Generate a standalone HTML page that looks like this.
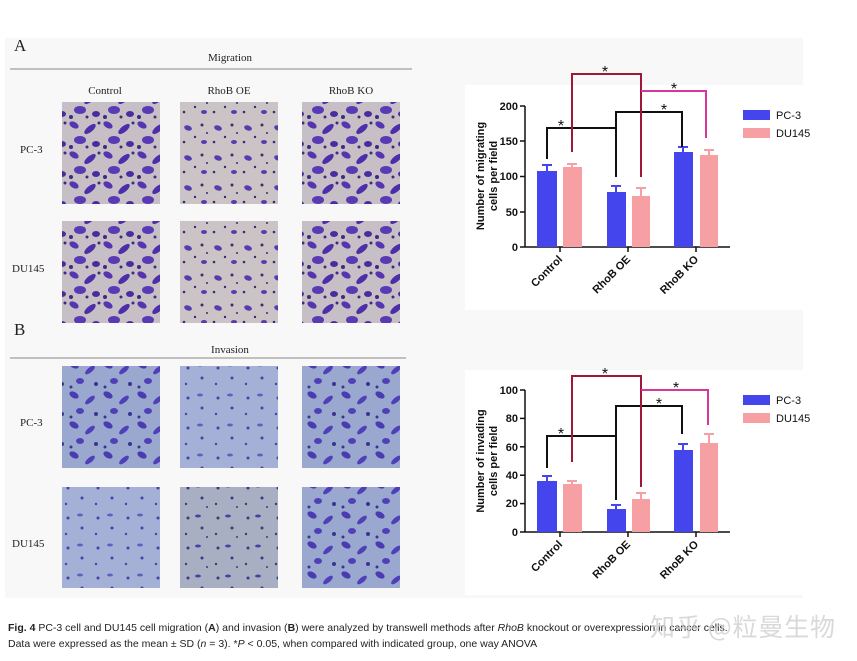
<!DOCTYPE html>
<html><head><meta charset="utf-8"><style>
html,body{margin:0;padding:0;background:#fff;width:857px;height:661px;overflow:hidden}
</style></head><body>
<svg width="857" height="661" viewBox="0 0 857 661" xmlns="http://www.w3.org/2000/svg">
<defs>
<pattern id="mD" width="34" height="30" patternUnits="userSpaceOnUse">
<rect width="34" height="30" fill="#c6bfc6"/>
<ellipse cx="6" cy="5" rx="5" ry="3" fill="#5634b0" transform="rotate(30 6 5)"/>
<ellipse cx="22" cy="9" rx="7" ry="3" fill="#4c2ea8" transform="rotate(-40 22 9)"/>
<ellipse cx="12" cy="20" rx="6" ry="4" fill="#5a3ab4"/>
<ellipse cx="28" cy="24" rx="4" ry="3" fill="#4a2c9e"/>
<circle cx="3" cy="27" r="2" fill="#3e2a80"/>
<circle cx="19" cy="27" r="1.5" fill="#3e2a80"/>
<circle cx="31" cy="3" r="1.5" fill="#3e2a80"/>
</pattern>
<pattern id="mL" width="30" height="30" patternUnits="userSpaceOnUse">
<rect width="30" height="30" fill="#cbc4c6"/>
<ellipse cx="8" cy="8" rx="4" ry="2.5" fill="#5a3ab0" transform="rotate(20 8 8)"/>
<circle cx="22" cy="5" r="1.5" fill="#3e2a70"/>
<circle cx="15" cy="17" r="1.2" fill="#3e2a70"/>
<circle cx="4" cy="22" r="1.3" fill="#3e2a70"/>
<ellipse cx="24" cy="22" rx="3" ry="2" fill="#5a3ab0"/>
<circle cx="27" cy="13" r="1" fill="#3e2a70"/>
</pattern>
<pattern id="iD" width="34" height="30" patternUnits="userSpaceOnUse">
<rect width="34" height="30" fill="#9aa8d0"/>
<ellipse cx="6" cy="5" rx="5" ry="3" fill="#4a3cb0" transform="rotate(30 6 5)"/>
<ellipse cx="22" cy="10" rx="6" ry="2.5" fill="#5040b8" transform="rotate(-40 22 10)"/>
<ellipse cx="12" cy="21" rx="4" ry="3" fill="#5040b8"/>
<circle cx="28" cy="24" r="2" fill="#3a3490"/>
<circle cx="3" cy="27" r="1.5" fill="#3a3490"/>
</pattern>
<pattern id="iL" width="30" height="30" patternUnits="userSpaceOnUse">
<rect width="30" height="30" fill="#a4b0d6"/>
<circle cx="8" cy="8" r="1.5" fill="#4a40a8"/>
<circle cx="22" cy="18" r="1.5" fill="#4a40a8"/>
<ellipse cx="20" cy="5" rx="3" ry="1.5" fill="#6060c0"/>
<circle cx="6" cy="24" r="1.2" fill="#4a40a8"/>
</pattern>
<pattern id="iG" width="30" height="30" patternUnits="userSpaceOnUse">
<rect width="30" height="30" fill="#a9afc2"/>
<circle cx="8" cy="8" r="1.5" fill="#3a3a80"/>
<circle cx="22" cy="18" r="1.5" fill="#3a3a80"/>
<ellipse cx="18" cy="6" rx="3" ry="1.5" fill="#4a40a8"/>
<circle cx="6" cy="24" r="1.2" fill="#3a3a80"/>
<circle cx="27" cy="27" r="1" fill="#3a3a80"/>
</pattern>
</defs>
<rect x="5" y="38" width="798" height="560" fill="#f8f8f8"/>
<g font-family="Liberation Serif, serif" fill="#222">
<text x="14" y="51" font-size="17">A</text>
<text x="230" y="61" font-size="11" text-anchor="middle">Migration</text>
<line x1="10" y1="69" x2="412" y2="69" stroke="#888" stroke-width="1"/>
<text x="105" y="94" font-size="11" text-anchor="middle">Control</text>
<text x="229" y="94" font-size="11" text-anchor="middle">RhoB OE</text>
<text x="351" y="94" font-size="11" text-anchor="middle">RhoB KO</text>
<text x="20" y="153" font-size="11">PC-3</text>
<text x="12" y="272" font-size="11">DU145</text>
<text x="14" y="335" font-size="17">B</text>
<text x="230" y="353" font-size="11" text-anchor="middle">Invasion</text>
<line x1="10" y1="358" x2="406" y2="358" stroke="#888" stroke-width="1"/>
<text x="20" y="426" font-size="11">PC-3</text>
<text x="12" y="547" font-size="11">DU145</text>
</g>
<rect x="62" y="102" width="98" height="102" fill="url(#mD)"/>
<rect x="180" y="102" width="98" height="102" fill="url(#mL)"/>
<rect x="302" y="102" width="98" height="102" fill="url(#mD)"/>
<rect x="62" y="221" width="98" height="102" fill="url(#mD)"/>
<rect x="180" y="221" width="98" height="102" fill="url(#mL)"/>
<rect x="302" y="221" width="98" height="102" fill="url(#mD)"/>
<rect x="62" y="366" width="98" height="102" fill="url(#iD)"/>
<rect x="180" y="366" width="98" height="102" fill="url(#iL)"/>
<rect x="302" y="366" width="98" height="102" fill="url(#iD)"/>
<rect x="62" y="487" width="98" height="101" fill="url(#iL)"/>
<rect x="180" y="487" width="98" height="101" fill="url(#iG)"/>
<rect x="302" y="487" width="98" height="101" fill="url(#iD)"/>

<!-- Chart A -->
<rect x="465" y="85" width="338" height="225" fill="#fff"/>
<g font-family="Liberation Sans, sans-serif" font-weight="bold" font-size="11" fill="#111">
<line x1="525" y1="106" x2="525" y2="247" stroke="#111" stroke-width="1.5"/>
<line x1="525" y1="247" x2="730" y2="247" stroke="#111" stroke-width="1.5"/>
<g stroke="#111" stroke-width="1.5"><line x1="520" y1="106" x2="525" y2="106"/><line x1="520" y1="141" x2="525" y2="141"/><line x1="520" y1="176.5" x2="525" y2="176.5"/><line x1="520" y1="212" x2="525" y2="212"/><line x1="520" y1="247" x2="525" y2="247"/>
<line x1="560" y1="247" x2="560" y2="252"/><line x1="628" y1="247" x2="628" y2="252"/><line x1="696" y1="247" x2="696" y2="252"/></g>
<text x="518" y="110" text-anchor="end">200</text><text x="518" y="145" text-anchor="end">150</text><text x="518" y="180" text-anchor="end">100</text><text x="518" y="216" text-anchor="end">50</text><text x="518" y="251" text-anchor="end">0</text>
<text transform="translate(484,176) rotate(-90)" text-anchor="middle">Number of migrating</text>
<text transform="translate(497,176) rotate(-90)" text-anchor="middle">cells per field</text>
<text transform="translate(563,260) rotate(-45)" text-anchor="end">Control</text>
<text transform="translate(631,260) rotate(-45)" text-anchor="end">RhoB OE</text>
<text transform="translate(699,260) rotate(-45)" text-anchor="end">RhoB KO</text>
<rect x="537" y="171" width="20" height="76" fill="#4545ee"/><rect x="563" y="167" width="19" height="80" fill="#f7a0a4"/>
<rect x="607" y="192" width="19" height="55" fill="#4545ee"/><rect x="632" y="196" width="18" height="51" fill="#f7a0a4"/>
<rect x="674" y="152" width="19" height="95" fill="#4545ee"/><rect x="700" y="155" width="18" height="92" fill="#f7a0a4"/>
<g stroke-width="2" fill="none">
<path d="M547 171V165M542 165H552" stroke="#4545ee"/><path d="M572 167V164M567 164H577" stroke="#f7a0a4"/>
<path d="M616 192V186M611 186H621" stroke="#4545ee"/><path d="M641 196V188M636 188H646" stroke="#f7a0a4"/>
<path d="M683 152V147M678 147H688" stroke="#4545ee"/><path d="M709 155V150M704 150H714" stroke="#f7a0a4"/>
<path d="M547 159V128H616V177" stroke="#111"/>
<path d="M616 128V112H682V147" stroke="#111"/>
<path d="M572 152V74H641V177" stroke="#a01838"/>
<path d="M641 91H706V138" stroke="#d8369c"/>
</g>
<text x="561" y="131" font-weight="normal" font-size="16" text-anchor="middle">*</text>
<text x="664" y="115" font-weight="normal" font-size="16" text-anchor="middle">*</text>
<text x="605" y="77" font-weight="normal" font-size="16" text-anchor="middle">*</text>
<text x="674" y="94" font-weight="normal" font-size="16" text-anchor="middle">*</text>
<rect x="743" y="110" width="27" height="10" fill="#4545ee"/><rect x="743" y="128" width="27" height="10" fill="#f7a0a4"/>
<text x="776" y="119" font-weight="normal" font-size="11">PC-3</text><text x="776" y="137" font-weight="normal" font-size="11">DU145</text>
</g>

<!-- Chart B -->
<rect x="465" y="370" width="338" height="225" fill="#fff"/>
<g font-family="Liberation Sans, sans-serif" font-weight="bold" font-size="11" fill="#111">
<line x1="525" y1="390" x2="525" y2="532" stroke="#111" stroke-width="1.5"/>
<line x1="525" y1="532" x2="730" y2="532" stroke="#111" stroke-width="1.5"/>
<g stroke="#111" stroke-width="1.5"><line x1="520" y1="390" x2="525" y2="390"/><line x1="520" y1="418.4" x2="525" y2="418.4"/><line x1="520" y1="446.8" x2="525" y2="446.8"/><line x1="520" y1="475.2" x2="525" y2="475.2"/><line x1="520" y1="503.6" x2="525" y2="503.6"/><line x1="520" y1="532" x2="525" y2="532"/>
<line x1="560" y1="532" x2="560" y2="537"/><line x1="628" y1="532" x2="628" y2="537"/><line x1="696" y1="532" x2="696" y2="537"/></g>
<text x="518" y="394" text-anchor="end">100</text><text x="518" y="422" text-anchor="end">80</text><text x="518" y="451" text-anchor="end">60</text><text x="518" y="479" text-anchor="end">40</text><text x="518" y="507" text-anchor="end">20</text><text x="518" y="536" text-anchor="end">0</text>
<text transform="translate(484,461) rotate(-90)" text-anchor="middle">Number of invading</text>
<text transform="translate(497,461) rotate(-90)" text-anchor="middle">cells per field</text>
<text transform="translate(563,545) rotate(-45)" text-anchor="end">Control</text>
<text transform="translate(631,545) rotate(-45)" text-anchor="end">RhoB OE</text>
<text transform="translate(699,545) rotate(-45)" text-anchor="end">RhoB KO</text>
<rect x="537" y="481" width="20" height="51" fill="#4545ee"/><rect x="563" y="484" width="19" height="48" fill="#f7a0a4"/>
<rect x="607" y="509" width="19" height="23" fill="#4545ee"/><rect x="632" y="499" width="18" height="33" fill="#f7a0a4"/>
<rect x="674" y="450" width="19" height="82" fill="#4545ee"/><rect x="700" y="443" width="18" height="89" fill="#f7a0a4"/>
<g stroke-width="2" fill="none">
<path d="M547 481V476M542 476H552" stroke="#4545ee"/><path d="M572 484V481M567 481H577" stroke="#f7a0a4"/>
<path d="M616 509V505M611 505H621" stroke="#4545ee"/><path d="M641 499V493M636 493H646" stroke="#f7a0a4"/>
<path d="M683 450V444M678 444H688" stroke="#4545ee"/><path d="M709 443V434M704 434H714" stroke="#f7a0a4"/>
<path d="M547 468V436H616V500" stroke="#111"/>
<path d="M616 436V406H682V434" stroke="#111"/>
<path d="M572 462V376H641V487" stroke="#a01838"/>
<path d="M641 390H708V425" stroke="#d8369c"/>
</g>
<text x="561" y="439" font-weight="normal" font-size="16" text-anchor="middle">*</text>
<text x="659" y="409" font-weight="normal" font-size="16" text-anchor="middle">*</text>
<text x="605" y="379" font-weight="normal" font-size="16" text-anchor="middle">*</text>
<text x="676" y="393" font-weight="normal" font-size="16" text-anchor="middle">*</text>
<rect x="743" y="395" width="27" height="10" fill="#4545ee"/><rect x="743" y="413" width="27" height="10" fill="#f7a0a4"/>
<text x="776" y="404" font-weight="normal" font-size="11">PC-3</text><text x="776" y="422" font-weight="normal" font-size="11">DU145</text>
</g>

<g font-family="Liberation Sans, sans-serif" font-size="10.5" fill="#222">
<text x="8" y="631"><tspan font-weight="bold">Fig. 4</tspan> PC-3 cell and DU145 cell migration (<tspan font-weight="bold">A</tspan>) and invasion (<tspan font-weight="bold">B</tspan>) were analyzed by transwell methods after <tspan font-style="italic">RhoB</tspan> knockout or overexpression in cancer cells.</text>
<text x="8" y="647">Data were expressed as the mean ± SD (<tspan font-style="italic">n</tspan> = 3). *<tspan font-style="italic">P</tspan> &lt; 0.05, when compared with indicated group, one way ANOVA</text>
</g>
<text x="650" y="636" font-family="Noto Sans CJK SC, sans-serif" font-size="25" fill="#ccc" fill-opacity="0.75" textLength="185">知乎 @粒曼生物</text>
</svg>
</body></html>
